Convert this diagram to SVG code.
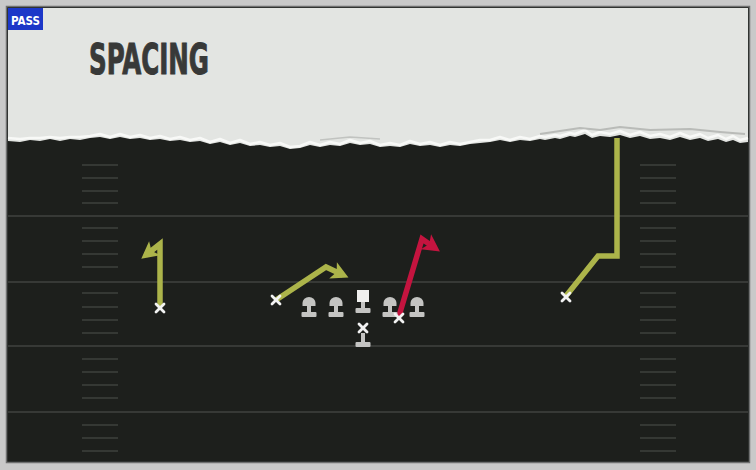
<svg xmlns="http://www.w3.org/2000/svg" width="756" height="470" viewBox="0 0 756 470">
<style>
.yard{stroke:#40433f;stroke-width:1.6}
.hash{stroke:#3e413d;stroke-width:1.5}
.route{fill:none;stroke:#acb44a;stroke-width:5.5;stroke-linejoin:miter;stroke-linecap:butt}
.red{stroke:#c4143f}
.x{stroke:#f2f2f2;stroke-width:2.8;stroke-linecap:round}
.lm{fill:#c4c4c2}
</style>
<defs>
<marker id="ah" markerUnits="userSpaceOnUse" markerWidth="20" markerHeight="20" viewBox="0 0 20 20" refX="12" refY="10" orient="auto">
<path d="M1,1 L18,10 L1,19 L5,10 Z" fill="#acb44a"/>
</marker>
<marker id="ahr" markerUnits="userSpaceOnUse" markerWidth="20" markerHeight="20" viewBox="0 0 20 20" refX="12" refY="10" orient="auto">
<path d="M1,1 L18,10 L1,19 L5,10 Z" fill="#c4143f"/>
</marker>
<g id="lineman">
<path d="M-6.5,9 L-6.5,6 A6.5,6 0 0 1 6.5,6 L6.5,9 Z"/>
<rect x="-2" y="8" width="4" height="8"/>
<rect x="-7.5" y="15" width="15" height="5" rx="1"/>
</g>
<g id="xmark">
<line x1="-4" y1="-4" x2="4" y2="4"/>
<line x1="-4" y1="4" x2="4" y2="-4"/>
</g>
</defs>
<rect x="0" y="0" width="756" height="470" fill="#c9c9c9"/>
<rect x="6.5" y="6.5" width="743" height="456" fill="#1d1f1c" stroke="#6f7070" stroke-width="1.5"/>
<g id="field">
<line class="yard" x1="8" y1="216" x2="748" y2="216"/>
<line class="yard" x1="8" y1="282" x2="748" y2="282"/>
<line class="yard" x1="8" y1="346" x2="748" y2="346"/>
<line class="yard" x1="8" y1="412" x2="748" y2="412"/>
<g class="hash">
<path d="M82,165H118M82,178H118M82,191H118M82,203H118M82,228H118M82,241H118M82,254H118M82,267H118M82,293H118M82,307H118M82,320H118M82,333H118M82,359H118M82,372H118M82,385H118M82,398H118M82,425H118M82,438H118M82,451H118"/>
<path d="M640,165H676M640,178H676M640,191H676M640,203H676M640,228H676M640,241H676M640,254H676M640,267H676M640,293H676M640,307H676M640,320H676M640,333H676M640,359H676M640,372H676M640,385H676M640,398H676M640,425H676M640,438H676M640,451H676"/>
</g>
</g>
<g id="connectors">
<path class="route" d="M160,306 L160,244 L146,255" marker-end="url(#ah)"/>
<path class="route" d="M276,300 L326,267 L343,275" marker-end="url(#ah)"/>
<path class="route red" d="M399,316 L422,239 L435,248" marker-end="url(#ahr)"/>
<path class="route" d="M566,296 L598,256 L617,256 L617,138"/>
</g>
<g id="paper">
<path d="M8,8 H748 V142 L740,143 L733,140 L726,142 L718,139 L708,141 L700,138 L690,140 L680,137 L670,140 L660,138 L650,139 L640,136 L630,138 L620,135 L610,137 L600,136 L592,138 L585,134 L575,137 L570,136 L560,139 L555,138 L545,140 L540,139 L530,141 L520,140 L510,142 L500,140 L490,142 L480,143 L470,144 L460,146 L450,145 L440,147 L430,145 L420,146 L410,144 L400,147 L390,146 L380,147 L370,144 L360,145 L350,143 L340,146 L330,145 L320,147 L310,145 L300,148 L290,149 L280,146 L270,147 L260,145 L250,146 L240,143 L230,145 L220,142 L210,144 L200,141 L190,142 L180,140 L170,141 L160,139 L150,140 L140,138 L130,139 L120,137 L110,139 L100,137 L90,138 L80,140 L70,139 L60,141 L50,139 L40,141 L30,140 L20,142 L8,141 Z" fill="#e3e5e2"/>
<path d="M748,138 L740,140 L733,136 L726,139 L718,135 L708,138 L700,134 L690,137 L680,133 L670,137 L660,134 L650,136 L640,132 L630,135 L620,131 L610,134 L600,132 L592,135 L585,130 L575,134 L570,133 L560,136 L555,135 L545,137 L540,136 L530,139 L520,137 L510,140 L500,137 L490,140 L480,140 L470,142 L460,144 L450,142 L440,145 L430,142 L420,144 L410,141 L400,145 L390,143 L380,145 L370,141 L360,143 L350,140 L340,144 L330,142 L320,145 L310,142 L300,146 L290,147 L280,143 L270,145 L260,142 L250,144 L240,140 L230,143 L220,139 L210,142 L200,138 L190,140 L180,137 L170,139 L160,136 L150,138 L140,135 L130,137 L120,134 L110,137 L100,134 L90,136 L80,137 L70,137 L60,138 L50,137 L40,138 L30,138 L20,139 L8,138" fill="none" stroke="#f8f9f7" stroke-width="2.5" stroke-linejoin="bevel"/>
<path d="M540,134 L560,131 L580,128 L600,130 L620,127 L650,130 L690,129 L720,132 L745,134" fill="none" stroke="#8f918e" stroke-width="2" opacity="0.5"/>
<path d="M320,140 L350,137 L380,139" fill="none" stroke="#8f918e" stroke-width="1.5" opacity="0.4"/>
</g>
<g id="badge">
<rect x="8" y="8" width="35" height="22" fill="#1c37c8"/>
<text x="25.5" y="24.5" text-anchor="middle" font-family="'DejaVu Sans Condensed','Liberation Sans',sans-serif" font-weight="bold" font-size="13" fill="#ffffff" textLength="29" lengthAdjust="spacingAndGlyphs">PASS</text>
</g>
<g id="title">
<text x="89" y="74" font-family="'DejaVu Sans Condensed','Liberation Sans',sans-serif" font-weight="bold" font-size="42" fill="#383938" stroke="#383938" stroke-width="1" textLength="120" lengthAdjust="spacingAndGlyphs">SPACING</text>
</g>
<g id="lt" class="lm"><use href="#lineman" x="309" y="297"/></g>
<g id="lg" class="lm"><use href="#lineman" x="336" y="297"/></g>
<g id="c">
<rect x="357" y="290" width="12" height="12" fill="#f0f0ee"/>
<rect x="361" y="302" width="4" height="7" fill="#c4c4c2"/>
<rect x="355.5" y="308" width="15" height="5" rx="1" fill="#c4c4c2"/>
</g>
<g id="rg" class="lm"><use href="#lineman" x="390" y="297"/></g>
<g id="rt" class="lm"><use href="#lineman" x="417" y="297"/></g>
<g id="qb">
<rect x="361" y="333" width="4" height="10" fill="#c4c4c2"/>
<rect x="355.5" y="342" width="15" height="5" rx="1" fill="#c4c4c2"/>
<use href="#xmark" x="363" y="328" class="x"/>
</g>
<g id="wr1"><use href="#xmark" x="160" y="308" class="x"/></g>
<g id="wr2"><use href="#xmark" x="276" y="300" class="x"/></g>
<g id="te"><use href="#xmark" x="399" y="318" class="x"/></g>
<g id="wr3"><use href="#xmark" x="566" y="297" class="x"/></g>
</svg>
